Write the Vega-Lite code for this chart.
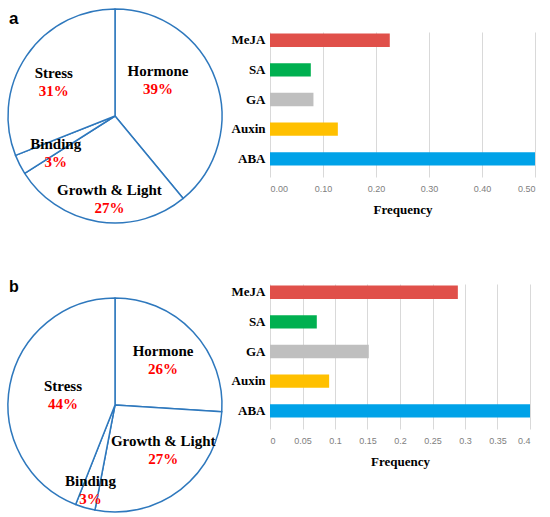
{
  "$schema": "https://vega.github.io/schema/vega-lite/v6.json",
  "background": "white",
  "padding": {"left": 7, "top": 8, "right": 5, "bottom": 0},
  "config": {
    "view": {"stroke": null},
    "axisX": {
      "domain": false,
      "ticks": false,
      "grid": true,
      "gridColor": "#D9D9D9",
      "gridWidth": 1,
      "labelFont": "Liberation Sans",
      "labelFontSize": 9,
      "labelColor": "#808080",
      "labelPadding": 7,
      "titleFont": "Liberation Serif",
      "titleFontSize": 13,
      "titleFontWeight": "bold",
      "titleColor": "black",
      "titlePadding": 10
    },
    "axisY": {
      "domain": false,
      "ticks": false,
      "grid": false,
      "labelFont": "Liberation Serif",
      "labelFontSize": 13,
      "labelFontWeight": "bold",
      "labelColor": "black",
      "labelPadding": 5
    }
  },
  "datasets": {
    "pieA": [
      {"category": "Hormone", "share": 0.39, "slice": 1},
      {"category": "Growth & Light", "share": 0.27, "slice": 2},
      {"category": "Binding", "share": 0.03, "slice": 3},
      {"category": "Stress", "share": 0.31, "slice": 4}
    ],
    "pieB": [
      {"category": "Hormone", "share": 0.26, "slice": 1},
      {"category": "Growth & Light", "share": 0.27, "slice": 2},
      {"category": "Binding", "share": 0.03, "slice": 3},
      {"category": "Stress", "share": 0.44, "slice": 4}
    ],
    "barA": [
      {"hormone": "MeJA", "freq": 0.226},
      {"hormone": "SA", "freq": 0.077},
      {"hormone": "GA", "freq": 0.082},
      {"hormone": "Auxin", "freq": 0.128},
      {"hormone": "ABA", "freq": 0.5}
    ],
    "barB": [
      {"hormone": "MeJA", "freq": 0.289},
      {"hormone": "SA", "freq": 0.072},
      {"hormone": "GA", "freq": 0.152},
      {"hormone": "Auxin", "freq": 0.091},
      {"hormone": "ABA", "freq": 0.4}
    ]
  },
  "vconcat": [
    {
      "hconcat": [
        {
          "width": 214,
          "height": 168,
          "title": {"text": "a", "anchor": "start", "frame": "group", "font": "Liberation Sans", "fontSize": 17, "fontWeight": "bold", "color": "black", "offset": 0, "dx": 1, "dy": 20},
          "data": {"name": "pieA"},
          "encoding": {
            "theta": {"field": "share", "type": "quantitative", "stack": true},
            "order": {"field": "slice", "type": "quantitative"}
          },
          "layer": [
            {"mark": {"type": "arc", "outerRadius": 107, "fill": "white", "stroke": "#2E78BD", "strokeWidth": 1.5, "strokeJoin": "round"}},
            {
              "mark": {"type": "text", "dy": -9, "font": "Liberation Serif", "fontSize": 15, "fontWeight": "bold", "color": "black",
                       "radius": {"expr": "datum.category === 'Hormone' ? 56 : datum.category === 'Growth & Light' ? 83 : 70"},
                       "thetaOffset": {"expr": "datum.category === 'Hormone' ? -0.35 : -0.09"}},
              "encoding": {"text": {"field": "category"}}
            },
            {
              "mark": {"type": "text", "dy": 9, "font": "Liberation Serif", "fontSize": 15, "fontWeight": "bold", "color": "#FF0000",
                       "radius": {"expr": "datum.category === 'Hormone' ? 56 : datum.category === 'Growth & Light' ? 83 : 70"},
                       "thetaOffset": {"expr": "datum.category === 'Hormone' ? -0.35 : -0.09"}},
              "encoding": {"text": {"field": "share", "format": ".0%"}}
            }
          ]
        },
        {
          "width": 265,
          "height": 145,
          "data": {"name": "barA"},
          "mark": {"type": "bar"},
          "encoding": {
            "y": {"field": "hormone", "type": "nominal", "sort": null, "title": null,
                  "scale": {"paddingInner": 0.55, "paddingOuter": 0.22, "align": 0.12}},
            "x": {"field": "freq", "type": "quantitative", "title": "Frequency",
                  "scale": {"domain": [0, 0.5], "nice": false},
                  "axis": {"values": [0, 0.1, 0.2, 0.3, 0.4, 0.5], "format": ".2f"}},
            "color": {"field": "hormone", "type": "nominal", "legend": null,
                      "scale": {"domain": ["MeJA", "SA", "GA", "Auxin", "ABA"],
                                "range": ["#E0504A", "#00B050", "#BFBFBF", "#FFC000", "#00A2E8"]}}
          }
        }
      ],
      "spacing": 8
    },
    {
      "hconcat": [
        {
          "width": 214,
          "height": 242,
          "title": {"text": "b", "anchor": "start", "frame": "group", "font": "Liberation Sans", "fontSize": 16, "fontWeight": "bold", "color": "black", "offset": 0, "dx": 1, "dy": 11},
          "data": {"name": "pieB"},
          "encoding": {
            "theta": {"field": "share", "type": "quantitative", "stack": true},
            "order": {"field": "slice", "type": "quantitative"}
          },
          "layer": [
            {"mark": {"type": "arc", "outerRadius": 107, "fill": "white", "stroke": "#2E78BD", "strokeWidth": 1.5, "strokeJoin": "round"}},
            {
              "mark": {"type": "text", "dy": -9, "font": "Liberation Serif", "fontSize": 15, "fontWeight": "bold", "color": "black",
                       "radius": {"expr": "datum.category === 'Binding' ? 88 : datum.category === 'Stress' ? 53 : 66"},
                       "thetaOffset": {"expr": "datum.category === 'Growth & Light' ? -0.16 : 0"}},
              "encoding": {"text": {"field": "category"}}
            },
            {
              "mark": {"type": "text", "dy": 9, "font": "Liberation Serif", "fontSize": 15, "fontWeight": "bold", "color": "#FF0000",
                       "radius": {"expr": "datum.category === 'Binding' ? 88 : datum.category === 'Stress' ? 53 : 66"},
                       "thetaOffset": {"expr": "datum.category === 'Growth & Light' ? -0.16 : 0"}},
              "encoding": {"text": {"field": "share", "format": ".0%"}}
            }
          ]
        },
        {
          "width": 260,
          "height": 145,
          "data": {"name": "barB"},
          "mark": {"type": "bar"},
          "encoding": {
            "y": {"field": "hormone", "type": "nominal", "sort": null, "title": null,
                  "scale": {"paddingInner": 0.55, "paddingOuter": 0.22, "align": 0.12}},
            "x": {"field": "freq", "type": "quantitative", "title": "Frequency",
                  "scale": {"domain": [0, 0.4], "nice": false},
                  "axis": {"values": [0, 0.05, 0.1, 0.15, 0.2, 0.25, 0.3, 0.35, 0.4], "format": ".2~f"}},
            "color": {"field": "hormone", "type": "nominal", "legend": null,
                      "scale": {"domain": ["MeJA", "SA", "GA", "Auxin", "ABA"],
                                "range": ["#E0504A", "#00B050", "#BFBFBF", "#FFC000", "#00A2E8"]}}
          }
        }
      ],
      "spacing": 8
    }
  ],
  "spacing": 55
}
